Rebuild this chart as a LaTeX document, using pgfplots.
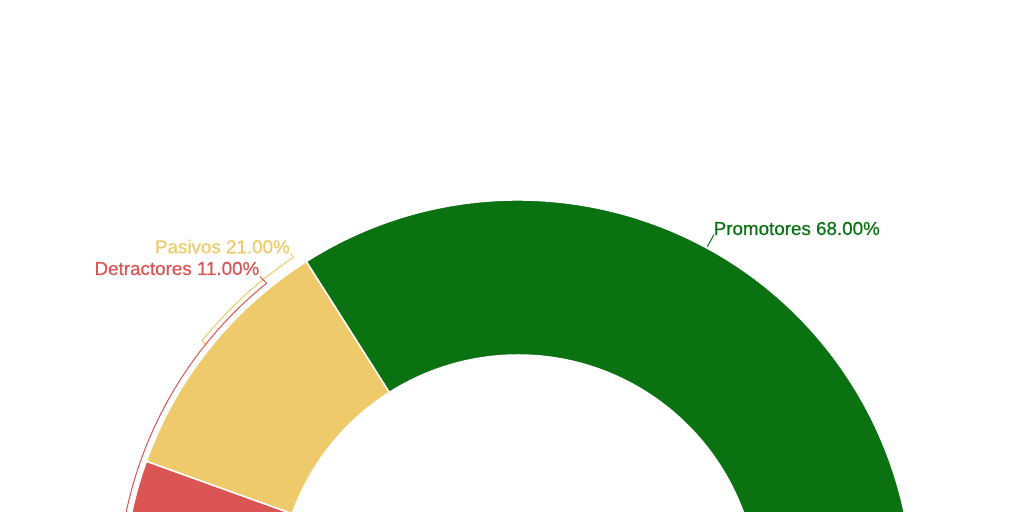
\documentclass[border=0pt]{standalone}
\usepackage{pgfplots}
\pgfplotsset{compat=1.18}
\usepackage{pgfplotstable}
\usetikzlibrary{calc}
\usepackage{fontspec}
\setmainfont{Liberation Sans}[FakeBold=0.6]
\definecolor{cDet}{RGB}{220,85,85}
\definecolor{cPas}{RGB}{238,202,106}
\definecolor{cPro}{RGB}{11,114,18}
\pgfplotstableread{
label value
Detractores 11
Pasivos 21
Promotores 68
}\npsdata
\begin{document}
\begin{tikzpicture}
\pgfplotstablegetelem{0}{value}\of\npsdata \let\vD\pgfplotsretval
\pgfplotstablegetelem{1}{value}\of\npsdata \let\vP\pgfplotsretval
\pgfplotstablegetelem{2}{value}\of\npsdata \let\vG\pgfplotsretval
\pgfmathsetmacro\aA{180}
\pgfmathsetmacro\aB{180-1.8*\vD}
\pgfmathsetmacro\aC{\aB-1.8*\vP}
\pgfmathsetmacro\aE{\aC-1.8*\vG}
\pgfmathsetmacro\mD{(\aA+\aB)/2}
\pgfmathsetmacro\mP{(\aB+\aC)/2}
\pgfmathsetmacro\mG{(\aC+\aE)/2}
\begin{axis}[x=1bp, y=1bp, xmin=0, xmax=1024, ymin=0, ymax=512,
  hide axis, clip=true]
\coordinate (bl) at (rel axis cs:0,0);
\coordinate (tr) at (rel axis cs:1,1);
\coordinate (c) at (axis cs:518,-83);
% sectors
\filldraw[fill=cDet, draw=white, line width=1.5bp]
  ($(c)+(\aA:395bp)$) arc[start angle=\aA, end angle=\aB, radius=395bp]
  -- ($(c)+(\aB:240bp)$) arc[start angle=\aB, end angle=\aA, radius=240bp] -- cycle;
\filldraw[fill=cPas, draw=white, line width=1.5bp]
  ($(c)+(\aB:395bp)$) arc[start angle=\aB, end angle=\aC, radius=395bp]
  -- ($(c)+(\aC:240bp)$) arc[start angle=\aC, end angle=\aB, radius=240bp] -- cycle;
\filldraw[fill=cPro, draw=white, line width=1.5bp]
  ($(c)+(\aC:395bp)$) arc[start angle=\aC, end angle=\aE, radius=395bp]
  -- ($(c)+(\aE:240bp)$) arc[start angle=\aE, end angle=\aC, radius=240bp] -- cycle;
% leader lines
\draw[cPro, line width=1bp] (axis cs:707.3,265.3) -- (axis cs:714,277.5);
\draw[cPas, line width=1bp, line join=round]
  ($(c)+(\mP:399bp)$) -- ($(c)+(141.2:405.5bp)$)
  arc[start angle=141.2, end angle=123.6, radius=405.5bp]
  -- (axis cs:290.5,258.5);
\draw[cDet, line width=1bp, line join=round]
  ($(c)+(\mD:396bp)$) -- ($(c)+(\mD:400.5bp)$)
  arc[start angle=\mD, end angle=128.9, radius=400.5bp]
  -- (axis cs:260,235.5);
% labels
\node[anchor=base west, inner sep=0, text=cPro, font=\fontsize{18.8bp}{22bp}\selectfont]
  at (axis cs:713.5,277) {Promotores 68.00\%};
\node[anchor=base east, inner sep=0, text=cPas, font=\fontsize{18.8bp}{22bp}\selectfont]
  at (axis cs:290,258.7) {Pasivos 21.00\%};
\node[anchor=base east, inner sep=0, text=cDet, font=\fontsize{18.8bp}{22bp}\selectfont]
  at (axis cs:259.5,237) {Detractores 11.00\%};
\end{axis}
\pgfresetboundingbox
\path (bl) rectangle (tr);
\end{tikzpicture}
\end{document}
